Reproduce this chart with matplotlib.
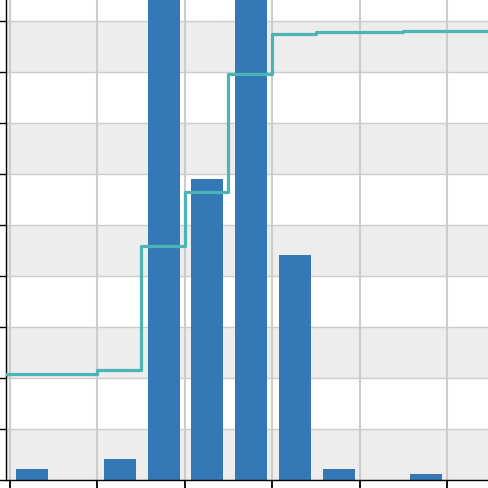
import numpy as np
import matplotlib
matplotlib.use("Agg")
import matplotlib.pyplot as plt

# histogram counts per bin (bin index 0..9)
bins = np.arange(10)
counts = [2, 0, 4, 134, 59, 127, 44, 2, 0, 1]
cumulative = np.cumsum(counts)

bar_color = "#3478b6"
line_color = "#4ab5b3"

fig = plt.figure(figsize=(4.89, 4.89), dpi=100)
W, H = 489.0, 489.0
# axes extends past top and right edge of the figure (cropped view)
ax = fig.add_axes([6.5 / W, 8.5 / H, 530 / W, 510 / H])

ax.set_xlim(-0.07, 530 / 43.75 - 0.07)
ax.set_ylim(0, 100)

# alternating grey bands
for lo in range(0, 100, 20):
    ax.axhspan(lo, lo + 10, color="#ededed", zorder=0, lw=0)

ax.set_yticks(np.arange(0, 100, 10))
ax.set_xticks(np.arange(0, 12, 2))
ax.grid(axis="y", color="#cccccc", lw=1.0, zorder=0.5)
ax.grid(axis="x", color="#cccccc", lw=1.5, zorder=0.5)
ax.set_axisbelow(True)

ax.bar(bins + 0.52, counts, width=0.73, color=bar_color, zorder=2)

ax.tick_params(axis="x", direction="out", length=6.5, width=1.3, labelbottom=False)
ax.tick_params(axis="y", direction="out", length=6, width=1.0, labelleft=False)
for s in ["top", "right"]:
    ax.spines[s].set_visible(False)
for s in ["left", "bottom"]:
    ax.spines[s].set_linewidth(1.0)
    ax.spines[s].set_color("black")

# cumulative count on a twin axis
ax2 = ax.twinx()
ax2.set_ylim(-112, -112 + 510 / 0.925)
ax2.axis("off")
xs = np.concatenate([[-1], bins, [13]])
ys = np.concatenate([[cumulative[0]], cumulative, [cumulative[-1]]])
ax2.step(xs, ys, where="post", color=line_color, lw=2.3, zorder=3)

fig.savefig("out.png", dpi=100)
